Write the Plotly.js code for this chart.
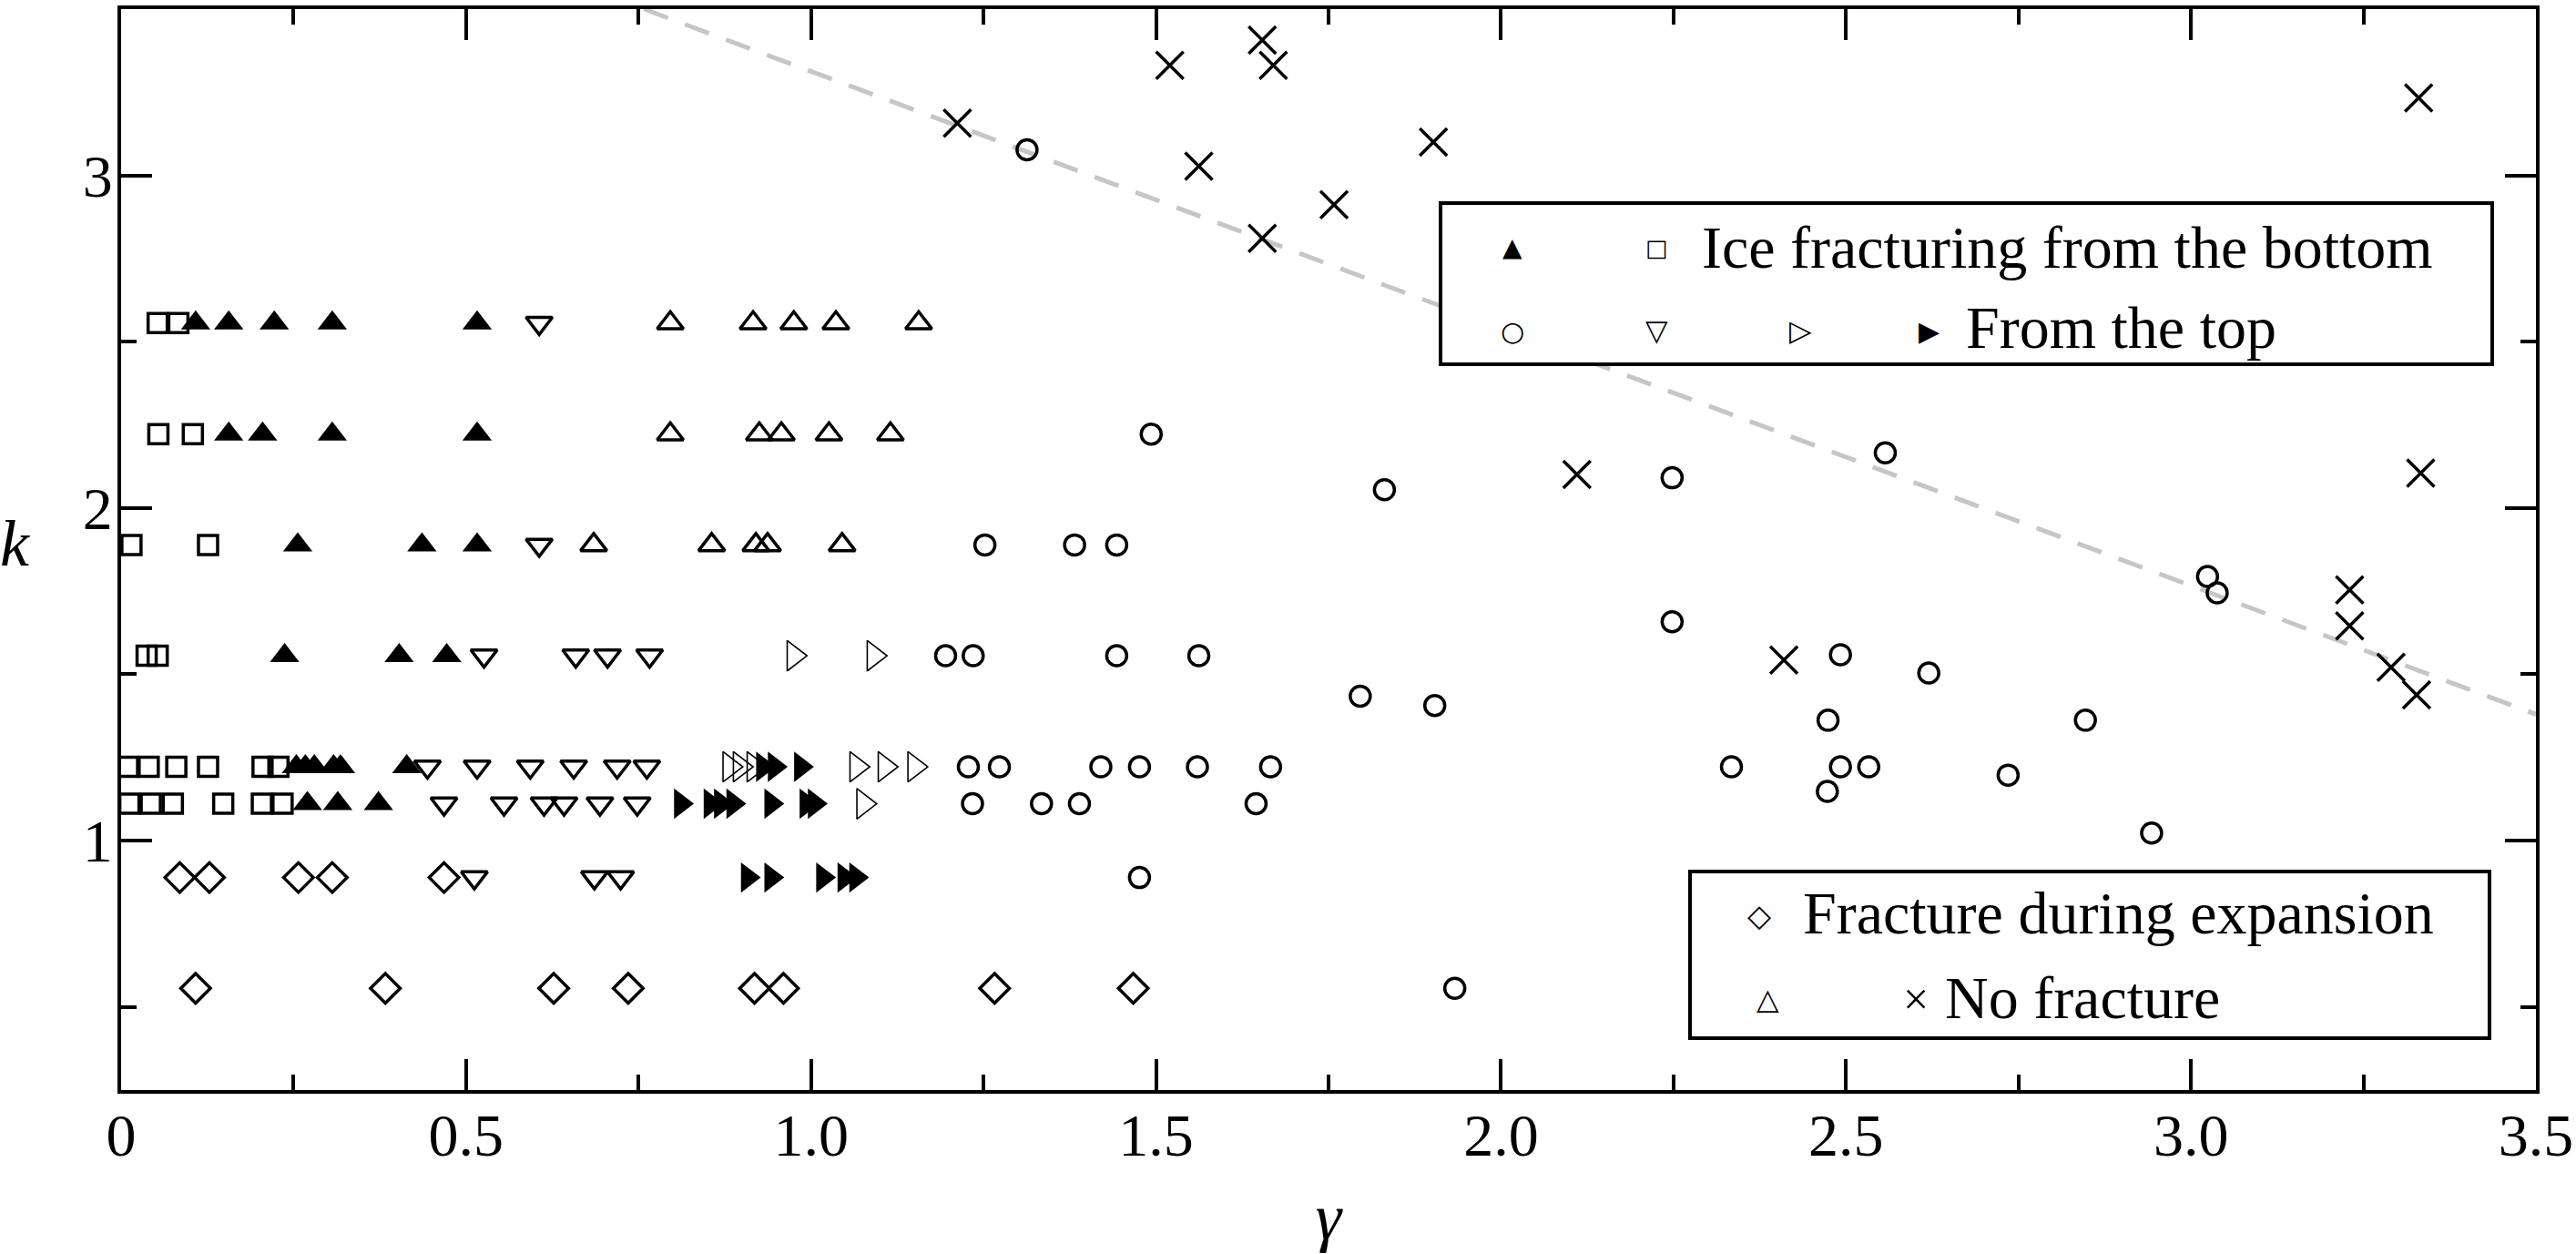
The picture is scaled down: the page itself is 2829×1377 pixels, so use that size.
<!DOCTYPE html>
<html>
<head>
<meta charset="utf-8">
<script src="https://cdn.plot.ly/plotly-3.0.1.min.js"></script>
<style>
  html, body { margin: 0; padding: 0; background: #ffffff; }
  #chart { width: 2829px; height: 1377px; }
</style>
</head>
<body>
<div id="chart"></div>
<script>
// ---------------- data ----------------
// Ice fracturing from the bottom: filled up-triangles
const bottomTriX = [0.108, 0.156, 0.222, 0.306, 0.516,
                    0.156, 0.205, 0.306, 0.516,
                    0.256, 0.436, 0.516,
                    0.237, 0.403, 0.472,
                    0.254, 0.267, 0.280, 0.308, 0.318, 0.414,
                    0.270, 0.314, 0.373];
const bottomTriK = [2.556, 2.556, 2.556, 2.556, 2.556,
                    2.222, 2.222, 2.222, 2.222,
                    1.889, 1.889, 1.889,
                    1.556, 1.556, 1.556,
                    1.222, 1.222, 1.222, 1.222, 1.222, 1.222,
                    1.111, 1.111, 1.111];
// Ice fracturing from the bottom: open squares
const bottomSqX = [0.053, 0.083, 0.054, 0.104, 0.015, 0.126, 0.037, 0.053,
                   0.010, 0.040, 0.080, 0.126, 0.205, 0.228,
                   0.012, 0.043, 0.075, 0.148, 0.204, 0.234];
const bottomSqK = [2.556, 2.556, 2.222, 2.222, 1.889, 1.889, 1.556, 1.556,
                   1.222, 1.222, 1.222, 1.222, 1.222, 1.222,
                   1.111, 1.111, 1.111, 1.111, 1.111, 1.111];
// From the top: open circles
const topCircX = [1.313, 1.493, 1.831, 2.248, 2.557, 3.024, 3.038,
                  1.252, 1.382, 1.443, 2.248,
                  1.195, 1.235, 1.443, 1.562, 2.492, 2.620,
                  1.796, 1.904, 2.474, 2.847,
                  1.228, 1.273, 1.420, 1.476, 1.560, 1.666, 2.334, 2.492, 2.533,
                  2.735, 2.473,
                  1.234, 1.334, 1.389, 1.645, 2.943, 1.476, 1.933];
const topCircK = [3.077, 2.222, 2.055, 2.091, 2.166, 1.794, 1.745,
                  1.889, 1.889, 1.889, 1.658,
                  1.556, 1.556, 1.556, 1.556, 1.559, 1.504,
                  1.434, 1.406, 1.362, 1.362,
                  1.222, 1.222, 1.222, 1.222, 1.222, 1.222, 1.222, 1.222, 1.222,
                  1.197, 1.148,
                  1.111, 1.111, 1.111, 1.111, 1.023, 0.889, 0.556];
// From the top: open down-triangles
const topDownX = [0.606, 0.606,
                  0.526, 0.659, 0.705, 0.766,
                  0.444, 0.516, 0.593, 0.656, 0.719, 0.762,
                  0.468, 0.555, 0.613, 0.642, 0.694, 0.748,
                  0.512, 0.686, 0.724];
const topDownK = [2.556, 1.889,
                  1.556, 1.556, 1.556, 1.556,
                  1.222, 1.222, 1.222, 1.222, 1.222, 1.222,
                  1.111, 1.111, 1.111, 1.111, 1.111, 1.111,
                  0.889, 0.889, 0.889];
// From the top: open right-triangles
const topRightOpenX = [0.975, 1.091, 0.882, 0.897, 0.917, 1.066, 1.107, 1.150, 1.076];
const topRightOpenK = [1.556, 1.556, 1.222, 1.222, 1.222, 1.222, 1.222, 1.222, 1.111];
// From the top: filled right-triangles
const topRightFillX = [0.930, 0.947, 0.985,
                       0.811, 0.854, 0.869, 0.887, 0.942, 0.993, 1.005,
                       0.908, 0.942, 1.017, 1.048, 1.065];
const topRightFillK = [1.222, 1.222, 1.222,
                       1.111, 1.111, 1.111, 1.111, 1.111, 1.111, 1.111,
                       0.889, 0.889, 0.889, 0.889, 0.889];
// Fracture during expansion: open diamonds
const expansionX = [0.085, 0.128, 0.257, 0.306, 0.468,
                    0.108, 0.383, 0.627, 0.735, 0.918, 0.960, 1.266, 1.467];
const expansionK = [0.889, 0.889, 0.889, 0.889, 0.889,
                    0.556, 0.556, 0.556, 0.556, 0.556, 0.556, 0.556, 0.556];
// No fracture: open up-triangles
const noFracTriX = [0.796, 0.916, 0.975, 1.036, 1.156,
                    0.796, 0.925, 0.957, 1.026, 1.115,
                    0.685, 0.856, 0.920, 0.937, 1.045];
const noFracTriK = [2.556, 2.556, 2.556, 2.556, 2.556,
                    2.222, 2.222, 2.222, 2.222, 2.222,
                    1.889, 1.889, 1.889, 1.889, 1.889];
// No fracture: crosses
const noFracXX = [1.212, 1.520, 1.654, 1.670, 1.562, 1.654, 1.758, 1.902,
                  3.330, 2.110, 3.333, 2.410, 3.230, 3.230, 3.290, 3.327];
const noFracXK = [3.157, 3.331, 3.407, 3.331, 3.028, 2.811, 2.912, 3.100,
                  3.233, 2.101, 2.105, 1.543, 1.754, 1.646, 1.521, 1.438];
// Dashed boundary line
const boundaryX = [0.758, 3.5];
const boundaryK = [3.5, 1.38];

// Tick labels
const xTickVals = [0, 0.5, 1.0, 1.5, 2.0, 2.5, 3.0, 3.5];
const xTickText = ['0', '0.5', '1.0', '1.5', '2.0', '2.5', '3.0', '3.5'];
const xMinorVals = [0.25, 0.75, 1.25, 1.75, 2.25, 2.75, 3.25];
const yTickVals = [1, 2, 3];
const yTickText = ['1', '2', '3'];
const yMinorVals = [0.5, 1.5, 2.5];

// Titles and legend texts
const xTitle = 'γ';
const yTitle = 'k';
const legendRow1 = 'Ice fracturing from the bottom';
const legendRow2 = 'From the top';
const legendRow3 = 'Fracture during expansion';
const legendRow4 = 'No fracture';

// ---------------- chart ----------------
const SERIF = 'Liberation Serif';
const SYM = 'DejaVu Sans';
const LW = 3.5;

function pts(x, y, marker) {
  return { type: 'scatter', mode: 'markers', x: x, y: y, marker: marker,
           hoverinfo: 'skip', showlegend: false, cliponaxis: true };
}

const traces = [
  { type: 'scatter', mode: 'lines', x: boundaryX, y: boundaryK,
    line: { color: '#c6c6c6', width: 5, dash: '28px,20px' },
    hoverinfo: 'skip', showlegend: false },
  pts(bottomSqX, bottomSqK, { symbol: 'square-open', size: 21, color: 'black', line: { width: LW, color: 'black' } }),
  pts(bottomTriX, bottomTriK, { symbol: 'triangle-up', size: 28, color: 'black', line: { width: 0 } }),
  pts(topDownX, topDownK, { symbol: 'triangle-down-open', size: 25, color: 'black', line: { width: LW, color: 'black' } }),
  pts(noFracTriX, noFracTriK, { symbol: 'triangle-up-open', size: 25, color: 'black', line: { width: LW, color: 'black' } }),
  pts(topRightOpenX, topRightOpenK, { symbol: 'triangle-right-open', size: 29, color: 'black', line: { width: 1.6, color: 'black' } }),
  pts(topRightFillX, topRightFillK, { symbol: 'triangle-right', size: 29, color: 'black', line: { width: 0 } }),
  pts(expansionX, expansionK, { symbol: 'diamond-open', size: 25, color: 'black', line: { width: LW, color: 'black' } }),
  pts(topCircX, topCircK, { symbol: 'circle-open', size: 22, color: 'black', line: { width: LW, color: 'black' } }),
  pts(noFracXX, noFracXK, { symbol: 'x-thin-open', size: 30, color: 'black', line: { width: LW, color: 'black' } })
];

// plot area in page pixels: left 133, right 2785, top 10, bottom 1197
const PL = 133, PR = 2785, PT = 10, PB = 1197;
const px = X => (X - PL) / (PR - PL);
const py = Y => (PB - Y) / (PB - PT);

function glyph(ch, X, Y, size, fam) {
  return { xref: 'paper', yref: 'paper', x: px(X), y: py(Y), text: ch, showarrow: false,
           xanchor: 'center', yanchor: 'middle',
           font: { family: fam || SYM, size: size, color: 'black' } };
}
function label(t, X, Y) {
  return { xref: 'paper', yref: 'paper', x: px(X), y: py(Y), text: t, showarrow: false,
           xanchor: 'left', yanchor: 'middle', borderpad: 0,
           font: { family: SERIF, size: 66, color: 'black' } };
}

const annotations = [
  // y-axis title
  { xref: 'paper', yref: 'paper', x: px(17), y: py(597), text: '<i>' + yTitle + '</i>',
    showarrow: false, xanchor: 'center', yanchor: 'middle',
    font: { family: SERIF, size: 72, color: 'black' } },
  glyph('▲', 1661, 272, 28),
  glyph('□', 1819, 272, 26),
  label(legendRow1, 1868, 272),
  glyph('○', 1661, 363, 30),
  glyph('▽', 1819, 363, 32),
  glyph('▷', 1977, 363, 32),
  glyph('▶', 2118, 363, 30),
  label(legendRow2, 2158, 359),
  glyph('◇', 1932, 1005, 34),
  label(legendRow3, 1979, 1003),
  glyph('△', 1941, 1097, 32),
  glyph('×', 2104, 1097, 50, SERIF),
  label(legendRow4, 2135, 1095)
];

const shapes = [
  { type: 'rect', xref: 'paper', yref: 'paper', layer: 'above',
    x0: px(1582), x1: px(2737), y0: py(400), y1: py(223),
    line: { color: 'black', width: 4 }, fillcolor: 'white' },
  { type: 'rect', xref: 'paper', yref: 'paper', layer: 'above',
    x0: px(1856), x1: px(2734), y0: py(1140), y1: py(957),
    line: { color: 'black', width: 4 }, fillcolor: 'white' }
];

const axisCommon = {
  showline: true, linewidth: 4, linecolor: 'black', mirror: 'ticks',
  ticks: 'inside', ticklen: 34, tickwidth: 4, tickcolor: 'black',
  showgrid: false, zeroline: false,
  tickfont: { family: SERIF, size: 66, color: 'black' }
};

const layout = {
  width: 2829, height: 1377,
  font: { family: SERIF, color: 'black' },
  margin: { l: PL, r: 2829 - PR, t: PT, b: 1377 - PB, pad: 0 },
  paper_bgcolor: 'white', plot_bgcolor: 'white',
  showlegend: false,
  xaxis: Object.assign({}, axisCommon, {
    range: [0, 3.5], tickmode: 'array', tickvals: xTickVals, ticktext: xTickText,
    minor: { tickmode: 'array', tickvals: xMinorVals, ticks: 'inside', ticklen: 17, tickwidth: 4, tickcolor: 'black' },
    ticklabelstandoff: -11,
    title: { text: '<i>' + xTitle + '</i>', font: { family: SERIF, size: 72, color: 'black' }, standoff: 53 },
    automargin: false
  }),
  yaxis: Object.assign({}, axisCommon, {
    range: [0.25, 3.5], tickmode: 'array', tickvals: yTickVals, ticktext: yTickText,
    minor: { tickmode: 'array', tickvals: yMinorVals, ticks: 'inside', ticklen: 17, tickwidth: 4, tickcolor: 'black' },
    ticklabelstandoff: -8,
    title: { text: '' },
    automargin: false
  }),
  annotations: annotations,
  shapes: shapes
};

Plotly.newPlot('chart', traces, layout, { displayModeBar: false, staticPlot: true });
</script>
</body>
</html>
